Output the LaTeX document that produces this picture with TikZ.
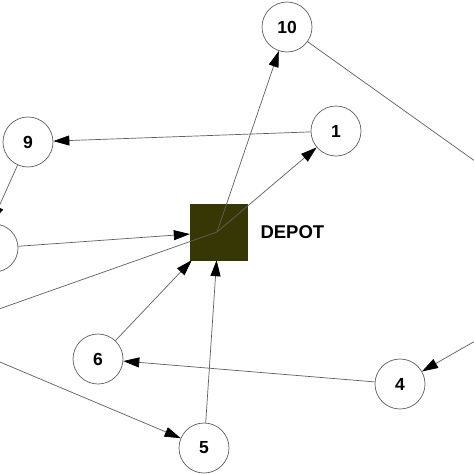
\documentclass[tikz,border=0pt]{standalone}
\usepackage{fontspec}
\setmainfont{Liberation Sans}
\usetikzlibrary{arrows.meta}
\definecolor{depotfill}{RGB}{55,55,5}
\definecolor{edgegray}{RGB}{95,95,95}
\begin{document}
\begin{tikzpicture}[x=1pt,y=-1pt,
  cust/.style={circle,draw=edgegray,line width=0.7pt,fill=white,minimum size=50pt,inner sep=0pt,font=\fontsize{17.5}{17.5}\selectfont\bfseries},
  depotbox/.style={rectangle,fill=depotfill,draw=depotfill,minimum width=57pt,minimum height=56pt,inner sep=0pt},
  link/.style={draw=edgegray,line width=0.7pt},
  arc/.style={link,-{Triangle[length=16pt,width=10pt,color=black]}}]
\useasboundingbox (0,0) rectangle (474,474);
\clip (0,0) rectangle (474,474);
\fill[white] (0,0) rectangle (474,474);
% depot
\node[depotbox] (depot) at (218.5,232) {};
\coordinate (dc) at (217,232);
\node[anchor=west,font=\fontsize{18.5}{18.5}\selectfont\bfseries] (dlabel) at (257,232) {DEPOT};
% customers
\node[cust] (n10) at (287,27) {10};
\node[cust] (n1) at (336,131) {1};
\node[cust] (n9) at (28,142) {9};
\node[cust,minimum size=48pt] (nL) at (-6,248) {};
\node[cust] (n6) at (98,359) {6};
\node[cust] (n5) at (204,448) {5};
\node[cust] (n4) at (400,384) {4};
\node[cust] (nR) at (615,261) {};
\node[cust] (nY) at (-69,333) {};
\coordinate (t9) at (-8,222);
% routes
\draw[arc] (dc) -- (n10);
\draw[arc] (n10) -- (nR);
\draw[arc] (nR) -- (n4);
\draw[arc] (n4) -- (n6);
\draw[arc] (n6) -- (depot);
\draw[arc] (dc) -- (n1);
\draw[arc] (n1) -- (n9);
\draw[arc] (n9) -- (t9);
\draw[arc] (nL) -- (depot);
\draw[arc] (dc) -- (nY);
\draw[arc] (nY) -- (n5);
\draw[arc] (n5) -- (depot);
\end{tikzpicture}
\end{document}
